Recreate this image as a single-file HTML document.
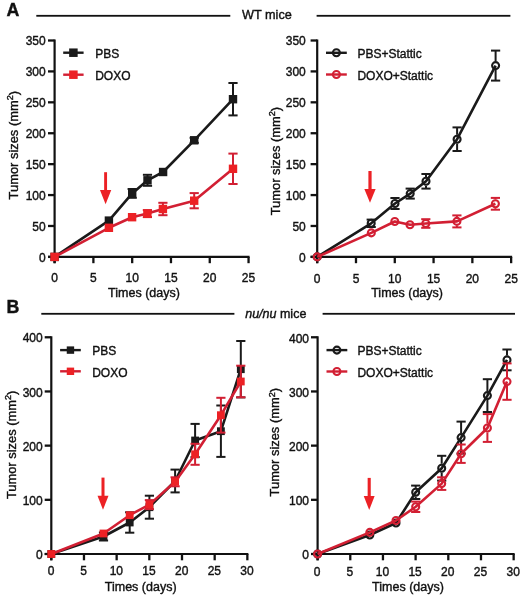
<!DOCTYPE html>
<html><head><meta charset="utf-8"><style>
html,body{margin:0;padding:0;background:#fff;width:520px;height:596px;overflow:hidden}
svg{display:block;will-change:transform}
text{font-family:"Liberation Sans", sans-serif;stroke:#111;stroke-width:0.38px}
</style></head><body>
<svg width="520" height="596" viewBox="0 0 520 596">
<rect width="520" height="596" fill="#fff"/>
<text x="6.50" y="15.90" font-size="17.8" text-anchor="start" font-weight="bold" font-style="normal" fill="#111" >A</text>
<rect x="36.3" y="14.9" width="194.0" height="1.8" fill="#111"/>
<rect x="316.6" y="14.9" width="193.8" height="1.8" fill="#111"/>
<text x="242.00" y="18.90" font-size="12.7" text-anchor="start" font-weight="normal" font-style="normal" fill="#111" >WT mice</text>
<text x="6.40" y="312.50" font-size="17.8" text-anchor="start" font-weight="bold" font-style="normal" fill="#111" >B</text>
<rect x="41.3" y="312.9" width="193.1" height="1.8" fill="#111"/>
<rect x="322.6" y="312.9" width="192.4" height="1.8" fill="#111"/>
<text x="245.2" y="317.9" font-size="12.5" fill="#111"><tspan font-style="italic">nu/nu</tspan> mice</text>
<line x1="54.60" y1="39.50" x2="54.60" y2="263.20" stroke="#111" stroke-width="2.2" stroke-linecap="butt"/>
<line x1="48.00" y1="256.90" x2="249.55" y2="256.90" stroke="#111" stroke-width="2.2" stroke-linecap="butt"/>
<line x1="48.00" y1="256.90" x2="54.60" y2="256.90" stroke="#111" stroke-width="2.3" stroke-linecap="butt"/>
<text x="45.70" y="262.40" font-size="12" text-anchor="end" font-weight="normal" font-style="normal" fill="#111" >0</text>
<line x1="48.00" y1="225.98" x2="54.60" y2="225.98" stroke="#111" stroke-width="2.3" stroke-linecap="butt"/>
<text x="45.70" y="231.33" font-size="12" text-anchor="end" font-weight="normal" font-style="normal" fill="#111" >50</text>
<line x1="48.00" y1="195.07" x2="54.60" y2="195.07" stroke="#111" stroke-width="2.3" stroke-linecap="butt"/>
<text x="45.70" y="200.26" font-size="12" text-anchor="end" font-weight="normal" font-style="normal" fill="#111" >100</text>
<line x1="48.00" y1="164.15" x2="54.60" y2="164.15" stroke="#111" stroke-width="2.3" stroke-linecap="butt"/>
<text x="45.70" y="169.18" font-size="12" text-anchor="end" font-weight="normal" font-style="normal" fill="#111" >150</text>
<line x1="48.00" y1="133.24" x2="54.60" y2="133.24" stroke="#111" stroke-width="2.3" stroke-linecap="butt"/>
<text x="45.70" y="138.11" font-size="12" text-anchor="end" font-weight="normal" font-style="normal" fill="#111" >200</text>
<line x1="48.00" y1="102.32" x2="54.60" y2="102.32" stroke="#111" stroke-width="2.3" stroke-linecap="butt"/>
<text x="45.70" y="107.04" font-size="12" text-anchor="end" font-weight="normal" font-style="normal" fill="#111" >250</text>
<line x1="48.00" y1="71.41" x2="54.60" y2="71.41" stroke="#111" stroke-width="2.3" stroke-linecap="butt"/>
<text x="45.70" y="75.97" font-size="12" text-anchor="end" font-weight="normal" font-style="normal" fill="#111" >300</text>
<line x1="48.00" y1="40.50" x2="54.60" y2="40.50" stroke="#111" stroke-width="2.3" stroke-linecap="butt"/>
<text x="45.70" y="44.90" font-size="12" text-anchor="end" font-weight="normal" font-style="normal" fill="#111" >350</text>
<line x1="54.60" y1="256.90" x2="54.60" y2="263.20" stroke="#111" stroke-width="2.3" stroke-linecap="butt"/>
<text x="54.60" y="282.20" font-size="12" text-anchor="middle" font-weight="normal" font-style="normal" fill="#111" >0</text>
<line x1="93.39" y1="256.90" x2="93.39" y2="263.20" stroke="#111" stroke-width="2.3" stroke-linecap="butt"/>
<text x="93.39" y="282.20" font-size="12" text-anchor="middle" font-weight="normal" font-style="normal" fill="#111" >5</text>
<line x1="132.18" y1="256.90" x2="132.18" y2="263.20" stroke="#111" stroke-width="2.3" stroke-linecap="butt"/>
<text x="132.18" y="282.20" font-size="12" text-anchor="middle" font-weight="normal" font-style="normal" fill="#111" >10</text>
<line x1="170.97" y1="256.90" x2="170.97" y2="263.20" stroke="#111" stroke-width="2.3" stroke-linecap="butt"/>
<text x="170.97" y="282.20" font-size="12" text-anchor="middle" font-weight="normal" font-style="normal" fill="#111" >15</text>
<line x1="209.76" y1="256.90" x2="209.76" y2="263.20" stroke="#111" stroke-width="2.3" stroke-linecap="butt"/>
<text x="209.76" y="282.20" font-size="12" text-anchor="middle" font-weight="normal" font-style="normal" fill="#111" >20</text>
<line x1="248.55" y1="256.90" x2="248.55" y2="263.20" stroke="#111" stroke-width="2.3" stroke-linecap="butt"/>
<text x="248.55" y="282.20" font-size="12" text-anchor="middle" font-weight="normal" font-style="normal" fill="#111" >25</text>
<text transform="translate(18.10,199.40) rotate(-90)" font-size="12.9" fill="#111">Tumor sizes (mm<tspan font-size="9" dy="-4.8">2</tspan><tspan dy="4.8">)</tspan></text>
<text x="108.10" y="297.20" font-size="12.5" text-anchor="start" font-weight="normal" font-style="normal" fill="#111" >Times (days)</text>
<line x1="317.20" y1="39.50" x2="317.20" y2="263.20" stroke="#111" stroke-width="2.2" stroke-linecap="butt"/>
<line x1="310.60" y1="256.90" x2="512.15" y2="256.90" stroke="#111" stroke-width="2.2" stroke-linecap="butt"/>
<line x1="310.60" y1="256.90" x2="317.20" y2="256.90" stroke="#111" stroke-width="2.3" stroke-linecap="butt"/>
<text x="305.80" y="262.40" font-size="12" text-anchor="end" font-weight="normal" font-style="normal" fill="#111" >0</text>
<line x1="310.60" y1="225.98" x2="317.20" y2="225.98" stroke="#111" stroke-width="2.3" stroke-linecap="butt"/>
<text x="305.80" y="231.37" font-size="12" text-anchor="end" font-weight="normal" font-style="normal" fill="#111" >50</text>
<line x1="310.60" y1="195.07" x2="317.20" y2="195.07" stroke="#111" stroke-width="2.3" stroke-linecap="butt"/>
<text x="305.80" y="200.34" font-size="12" text-anchor="end" font-weight="normal" font-style="normal" fill="#111" >100</text>
<line x1="310.60" y1="164.15" x2="317.20" y2="164.15" stroke="#111" stroke-width="2.3" stroke-linecap="butt"/>
<text x="305.80" y="169.31" font-size="12" text-anchor="end" font-weight="normal" font-style="normal" fill="#111" >150</text>
<line x1="310.60" y1="133.24" x2="317.20" y2="133.24" stroke="#111" stroke-width="2.3" stroke-linecap="butt"/>
<text x="305.80" y="138.28" font-size="12" text-anchor="end" font-weight="normal" font-style="normal" fill="#111" >200</text>
<line x1="310.60" y1="102.32" x2="317.20" y2="102.32" stroke="#111" stroke-width="2.3" stroke-linecap="butt"/>
<text x="305.80" y="107.25" font-size="12" text-anchor="end" font-weight="normal" font-style="normal" fill="#111" >250</text>
<line x1="310.60" y1="71.41" x2="317.20" y2="71.41" stroke="#111" stroke-width="2.3" stroke-linecap="butt"/>
<text x="305.80" y="76.22" font-size="12" text-anchor="end" font-weight="normal" font-style="normal" fill="#111" >300</text>
<line x1="310.60" y1="40.50" x2="317.20" y2="40.50" stroke="#111" stroke-width="2.3" stroke-linecap="butt"/>
<text x="305.80" y="45.20" font-size="12" text-anchor="end" font-weight="normal" font-style="normal" fill="#111" >350</text>
<line x1="317.20" y1="256.90" x2="317.20" y2="263.20" stroke="#111" stroke-width="2.3" stroke-linecap="butt"/>
<text x="317.20" y="282.50" font-size="12" text-anchor="middle" font-weight="normal" font-style="normal" fill="#111" >0</text>
<line x1="355.99" y1="256.90" x2="355.99" y2="263.20" stroke="#111" stroke-width="2.3" stroke-linecap="butt"/>
<text x="355.99" y="282.50" font-size="12" text-anchor="middle" font-weight="normal" font-style="normal" fill="#111" >5</text>
<line x1="394.78" y1="256.90" x2="394.78" y2="263.20" stroke="#111" stroke-width="2.3" stroke-linecap="butt"/>
<text x="394.78" y="282.50" font-size="12" text-anchor="middle" font-weight="normal" font-style="normal" fill="#111" >10</text>
<line x1="433.57" y1="256.90" x2="433.57" y2="263.20" stroke="#111" stroke-width="2.3" stroke-linecap="butt"/>
<text x="433.57" y="282.50" font-size="12" text-anchor="middle" font-weight="normal" font-style="normal" fill="#111" >15</text>
<line x1="472.36" y1="256.90" x2="472.36" y2="263.20" stroke="#111" stroke-width="2.3" stroke-linecap="butt"/>
<text x="472.36" y="282.50" font-size="12" text-anchor="middle" font-weight="normal" font-style="normal" fill="#111" >20</text>
<line x1="511.15" y1="256.90" x2="511.15" y2="263.20" stroke="#111" stroke-width="2.3" stroke-linecap="butt"/>
<text x="511.15" y="282.50" font-size="12" text-anchor="middle" font-weight="normal" font-style="normal" fill="#111" >25</text>
<text transform="translate(280.10,215.30) rotate(-90)" font-size="12.9" fill="#111">Tumor sizes (mm<tspan font-size="9" dy="-4.8">2</tspan><tspan dy="4.8">)</tspan></text>
<text x="371.20" y="297.40" font-size="12.5" text-anchor="start" font-weight="normal" font-style="normal" fill="#111" >Times (days)</text>
<path d="M54.60,256.90 L108.90,220.60 L132.20,193.40 L147.50,180.30 L163.10,172.00 L194.20,140.30 L233.00,99.20" fill="none" stroke="#1a1a1a" stroke-width="2.6" stroke-linejoin="round"/>
<line x1="132.20" y1="189.00" x2="132.20" y2="197.80" stroke="#1a1a1a" stroke-width="2.0" stroke-linecap="butt"/>
<line x1="127.60" y1="189.00" x2="136.80" y2="189.00" stroke="#1a1a1a" stroke-width="2.0" stroke-linecap="butt"/>
<line x1="127.60" y1="197.80" x2="136.80" y2="197.80" stroke="#1a1a1a" stroke-width="2.0" stroke-linecap="butt"/>
<line x1="147.50" y1="174.80" x2="147.50" y2="185.80" stroke="#1a1a1a" stroke-width="2.0" stroke-linecap="butt"/>
<line x1="142.90" y1="174.80" x2="152.10" y2="174.80" stroke="#1a1a1a" stroke-width="2.0" stroke-linecap="butt"/>
<line x1="142.90" y1="185.80" x2="152.10" y2="185.80" stroke="#1a1a1a" stroke-width="2.0" stroke-linecap="butt"/>
<line x1="194.20" y1="137.80" x2="194.20" y2="142.80" stroke="#1a1a1a" stroke-width="2.0" stroke-linecap="butt"/>
<line x1="189.60" y1="137.80" x2="198.80" y2="137.80" stroke="#1a1a1a" stroke-width="2.0" stroke-linecap="butt"/>
<line x1="189.60" y1="142.80" x2="198.80" y2="142.80" stroke="#1a1a1a" stroke-width="2.0" stroke-linecap="butt"/>
<line x1="233.00" y1="83.00" x2="233.00" y2="115.40" stroke="#1a1a1a" stroke-width="2.0" stroke-linecap="butt"/>
<line x1="228.40" y1="83.00" x2="237.60" y2="83.00" stroke="#1a1a1a" stroke-width="2.0" stroke-linecap="butt"/>
<line x1="228.40" y1="115.40" x2="237.60" y2="115.40" stroke="#1a1a1a" stroke-width="2.0" stroke-linecap="butt"/>
<rect x="50.40" y="252.70" width="8.4" height="8.4" fill="#1a1a1a"/>
<rect x="104.70" y="216.40" width="8.4" height="8.4" fill="#1a1a1a"/>
<rect x="128.00" y="189.20" width="8.4" height="8.4" fill="#1a1a1a"/>
<rect x="143.30" y="176.10" width="8.4" height="8.4" fill="#1a1a1a"/>
<rect x="158.90" y="167.80" width="8.4" height="8.4" fill="#1a1a1a"/>
<rect x="190.00" y="136.10" width="8.4" height="8.4" fill="#1a1a1a"/>
<rect x="228.80" y="95.00" width="8.4" height="8.4" fill="#1a1a1a"/>
<path d="M54.60,256.90 L108.90,227.80 L132.10,217.20 L147.40,213.60 L162.90,209.00 L194.20,200.70 L233.00,168.80" fill="none" stroke="#d21f33" stroke-width="2.6" stroke-linejoin="round"/>
<line x1="147.40" y1="210.10" x2="147.40" y2="217.10" stroke="#d21f33" stroke-width="2.0" stroke-linecap="butt"/>
<line x1="142.80" y1="210.10" x2="152.00" y2="210.10" stroke="#d21f33" stroke-width="2.0" stroke-linecap="butt"/>
<line x1="142.80" y1="217.10" x2="152.00" y2="217.10" stroke="#d21f33" stroke-width="2.0" stroke-linecap="butt"/>
<line x1="162.90" y1="202.80" x2="162.90" y2="215.20" stroke="#d21f33" stroke-width="2.0" stroke-linecap="butt"/>
<line x1="158.30" y1="202.80" x2="167.50" y2="202.80" stroke="#d21f33" stroke-width="2.0" stroke-linecap="butt"/>
<line x1="158.30" y1="215.20" x2="167.50" y2="215.20" stroke="#d21f33" stroke-width="2.0" stroke-linecap="butt"/>
<line x1="194.20" y1="193.10" x2="194.20" y2="208.30" stroke="#d21f33" stroke-width="2.0" stroke-linecap="butt"/>
<line x1="189.60" y1="193.10" x2="198.80" y2="193.10" stroke="#d21f33" stroke-width="2.0" stroke-linecap="butt"/>
<line x1="189.60" y1="208.30" x2="198.80" y2="208.30" stroke="#d21f33" stroke-width="2.0" stroke-linecap="butt"/>
<line x1="233.00" y1="153.60" x2="233.00" y2="184.00" stroke="#d21f33" stroke-width="2.0" stroke-linecap="butt"/>
<line x1="228.40" y1="153.60" x2="237.60" y2="153.60" stroke="#d21f33" stroke-width="2.0" stroke-linecap="butt"/>
<line x1="228.40" y1="184.00" x2="237.60" y2="184.00" stroke="#d21f33" stroke-width="2.0" stroke-linecap="butt"/>
<rect x="50.40" y="252.70" width="8.4" height="8.4" fill="#ec2125"/>
<rect x="104.70" y="223.60" width="8.4" height="8.4" fill="#ec2125"/>
<rect x="127.90" y="213.00" width="8.4" height="8.4" fill="#ec2125"/>
<rect x="143.20" y="209.40" width="8.4" height="8.4" fill="#ec2125"/>
<rect x="158.70" y="204.80" width="8.4" height="8.4" fill="#ec2125"/>
<rect x="190.00" y="196.50" width="8.4" height="8.4" fill="#ec2125"/>
<rect x="228.80" y="164.60" width="8.4" height="8.4" fill="#ec2125"/>
<line x1="63.20" y1="52.70" x2="83.60" y2="52.70" stroke="#1a1a1a" stroke-width="2.4" stroke-linecap="butt"/>
<rect x="69.15" y="48.45" width="8.5" height="8.5" fill="#1a1a1a"/>
<text x="95.20" y="57.70" font-size="12" text-anchor="start" font-weight="normal" font-style="normal" fill="#111" >PBS</text>
<line x1="63.20" y1="74.70" x2="83.60" y2="74.70" stroke="#d21f33" stroke-width="2.4" stroke-linecap="butt"/>
<rect x="69.15" y="70.45" width="8.5" height="8.5" fill="#ec2125"/>
<text x="95.20" y="79.70" font-size="12" text-anchor="start" font-weight="normal" font-style="normal" fill="#111" >DOXO</text>
<rect x="104.15" y="172.20" width="2.9" height="18.70" fill="#ec2125"/>
<polygon points="99.95,189.90 111.25,189.90 105.60,204.30" fill="#ec2125"/>
<path d="M317.20,256.90 L371.20,223.30 L395.00,203.50 L410.20,193.60 L426.00,181.30 L457.10,139.20 L495.60,65.60" fill="none" stroke="#1a1a1a" stroke-width="2.6" stroke-linejoin="round"/>
<line x1="366.60" y1="219.60" x2="375.80" y2="219.60" stroke="#1a1a1a" stroke-width="2.0" stroke-linecap="butt"/>
<line x1="366.60" y1="227.00" x2="375.80" y2="227.00" stroke="#1a1a1a" stroke-width="2.0" stroke-linecap="butt"/>
<line x1="395.00" y1="198.00" x2="395.00" y2="199.10" stroke="#1a1a1a" stroke-width="2.0" stroke-linecap="butt"/>
<line x1="395.00" y1="207.90" x2="395.00" y2="209.00" stroke="#1a1a1a" stroke-width="2.0" stroke-linecap="butt"/>
<line x1="390.40" y1="198.00" x2="399.60" y2="198.00" stroke="#1a1a1a" stroke-width="2.0" stroke-linecap="butt"/>
<line x1="390.40" y1="209.00" x2="399.60" y2="209.00" stroke="#1a1a1a" stroke-width="2.0" stroke-linecap="butt"/>
<line x1="410.20" y1="188.60" x2="410.20" y2="189.20" stroke="#1a1a1a" stroke-width="2.0" stroke-linecap="butt"/>
<line x1="410.20" y1="198.00" x2="410.20" y2="198.60" stroke="#1a1a1a" stroke-width="2.0" stroke-linecap="butt"/>
<line x1="405.60" y1="188.60" x2="414.80" y2="188.60" stroke="#1a1a1a" stroke-width="2.0" stroke-linecap="butt"/>
<line x1="405.60" y1="198.60" x2="414.80" y2="198.60" stroke="#1a1a1a" stroke-width="2.0" stroke-linecap="butt"/>
<line x1="426.00" y1="174.00" x2="426.00" y2="176.90" stroke="#1a1a1a" stroke-width="2.0" stroke-linecap="butt"/>
<line x1="426.00" y1="185.70" x2="426.00" y2="188.60" stroke="#1a1a1a" stroke-width="2.0" stroke-linecap="butt"/>
<line x1="421.40" y1="174.00" x2="430.60" y2="174.00" stroke="#1a1a1a" stroke-width="2.0" stroke-linecap="butt"/>
<line x1="421.40" y1="188.60" x2="430.60" y2="188.60" stroke="#1a1a1a" stroke-width="2.0" stroke-linecap="butt"/>
<line x1="457.10" y1="127.40" x2="457.10" y2="134.80" stroke="#1a1a1a" stroke-width="2.0" stroke-linecap="butt"/>
<line x1="457.10" y1="143.60" x2="457.10" y2="151.00" stroke="#1a1a1a" stroke-width="2.0" stroke-linecap="butt"/>
<line x1="452.50" y1="127.40" x2="461.70" y2="127.40" stroke="#1a1a1a" stroke-width="2.0" stroke-linecap="butt"/>
<line x1="452.50" y1="151.00" x2="461.70" y2="151.00" stroke="#1a1a1a" stroke-width="2.0" stroke-linecap="butt"/>
<line x1="495.60" y1="50.60" x2="495.60" y2="61.20" stroke="#1a1a1a" stroke-width="2.0" stroke-linecap="butt"/>
<line x1="495.60" y1="70.00" x2="495.60" y2="80.60" stroke="#1a1a1a" stroke-width="2.0" stroke-linecap="butt"/>
<line x1="491.00" y1="50.60" x2="500.20" y2="50.60" stroke="#1a1a1a" stroke-width="2.0" stroke-linecap="butt"/>
<line x1="491.00" y1="80.60" x2="500.20" y2="80.60" stroke="#1a1a1a" stroke-width="2.0" stroke-linecap="butt"/>
<circle cx="317.20" cy="256.90" r="3.5" fill="none" stroke="#1a1a1a" stroke-width="2.1"/>
<circle cx="371.20" cy="223.30" r="3.5" fill="none" stroke="#1a1a1a" stroke-width="2.1"/>
<circle cx="395.00" cy="203.50" r="3.5" fill="none" stroke="#1a1a1a" stroke-width="2.1"/>
<circle cx="410.20" cy="193.60" r="3.5" fill="none" stroke="#1a1a1a" stroke-width="2.1"/>
<circle cx="426.00" cy="181.30" r="3.5" fill="none" stroke="#1a1a1a" stroke-width="2.1"/>
<circle cx="457.10" cy="139.20" r="3.5" fill="none" stroke="#1a1a1a" stroke-width="2.1"/>
<circle cx="495.60" cy="65.60" r="3.5" fill="none" stroke="#1a1a1a" stroke-width="2.1"/>
<path d="M317.20,256.90 L371.30,232.90 L394.80,221.50 L410.00,224.80 L425.80,223.50 L456.90,221.40 L495.40,203.80" fill="none" stroke="#d21f33" stroke-width="2.6" stroke-linejoin="round"/>
<line x1="421.20" y1="219.20" x2="430.40" y2="219.20" stroke="#d21f33" stroke-width="2.0" stroke-linecap="butt"/>
<line x1="421.20" y1="227.80" x2="430.40" y2="227.80" stroke="#d21f33" stroke-width="2.0" stroke-linecap="butt"/>
<line x1="456.90" y1="215.40" x2="456.90" y2="217.00" stroke="#d21f33" stroke-width="2.0" stroke-linecap="butt"/>
<line x1="456.90" y1="225.80" x2="456.90" y2="227.40" stroke="#d21f33" stroke-width="2.0" stroke-linecap="butt"/>
<line x1="452.30" y1="215.40" x2="461.50" y2="215.40" stroke="#d21f33" stroke-width="2.0" stroke-linecap="butt"/>
<line x1="452.30" y1="227.40" x2="461.50" y2="227.40" stroke="#d21f33" stroke-width="2.0" stroke-linecap="butt"/>
<line x1="495.40" y1="197.90" x2="495.40" y2="199.40" stroke="#d21f33" stroke-width="2.0" stroke-linecap="butt"/>
<line x1="495.40" y1="208.20" x2="495.40" y2="209.70" stroke="#d21f33" stroke-width="2.0" stroke-linecap="butt"/>
<line x1="490.80" y1="197.90" x2="500.00" y2="197.90" stroke="#d21f33" stroke-width="2.0" stroke-linecap="butt"/>
<line x1="490.80" y1="209.70" x2="500.00" y2="209.70" stroke="#d21f33" stroke-width="2.0" stroke-linecap="butt"/>
<circle cx="317.20" cy="256.90" r="3.5" fill="none" stroke="#d21f33" stroke-width="2.1"/>
<circle cx="371.30" cy="232.90" r="3.5" fill="none" stroke="#d21f33" stroke-width="2.1"/>
<circle cx="394.80" cy="221.50" r="3.5" fill="none" stroke="#d21f33" stroke-width="2.1"/>
<circle cx="410.00" cy="224.80" r="3.5" fill="none" stroke="#d21f33" stroke-width="2.1"/>
<circle cx="425.80" cy="223.50" r="3.5" fill="none" stroke="#d21f33" stroke-width="2.1"/>
<circle cx="456.90" cy="221.40" r="3.5" fill="none" stroke="#d21f33" stroke-width="2.1"/>
<circle cx="495.40" cy="203.80" r="3.5" fill="none" stroke="#d21f33" stroke-width="2.1"/>
<line x1="326.00" y1="52.80" x2="346.80" y2="52.80" stroke="#1a1a1a" stroke-width="2.4" stroke-linecap="butt"/>
<circle cx="336.40" cy="52.80" r="3.5" fill="none" stroke="#1a1a1a" stroke-width="2.1"/>
<text x="357.40" y="57.80" font-size="12" text-anchor="start" font-weight="normal" font-style="normal" fill="#111" >PBS+Stattic</text>
<line x1="326.00" y1="74.50" x2="346.80" y2="74.50" stroke="#d21f33" stroke-width="2.4" stroke-linecap="butt"/>
<circle cx="336.40" cy="74.50" r="3.5" fill="none" stroke="#d21f33" stroke-width="2.1"/>
<text x="357.40" y="79.80" font-size="12" text-anchor="start" font-weight="normal" font-style="normal" fill="#111" >DOXO+Stattic</text>
<rect x="368.40" y="171.00" width="3.2" height="19.00" fill="#ec2125"/>
<polygon points="364.35,189.00 375.65,189.00 370.00,202.80" fill="#ec2125"/>
<line x1="51.30" y1="336.28" x2="51.30" y2="560.30" stroke="#111" stroke-width="2.2" stroke-linecap="butt"/>
<line x1="44.70" y1="554.00" x2="248.35" y2="554.00" stroke="#111" stroke-width="2.2" stroke-linecap="butt"/>
<line x1="44.70" y1="554.00" x2="51.30" y2="554.00" stroke="#111" stroke-width="2.3" stroke-linecap="butt"/>
<text x="42.70" y="559.20" font-size="12" text-anchor="end" font-weight="normal" font-style="normal" fill="#111" >0</text>
<line x1="44.70" y1="499.82" x2="51.30" y2="499.82" stroke="#111" stroke-width="2.3" stroke-linecap="butt"/>
<text x="42.70" y="505.02" font-size="12" text-anchor="end" font-weight="normal" font-style="normal" fill="#111" >100</text>
<line x1="44.70" y1="445.64" x2="51.30" y2="445.64" stroke="#111" stroke-width="2.3" stroke-linecap="butt"/>
<text x="42.70" y="450.84" font-size="12" text-anchor="end" font-weight="normal" font-style="normal" fill="#111" >200</text>
<line x1="44.70" y1="391.46" x2="51.30" y2="391.46" stroke="#111" stroke-width="2.3" stroke-linecap="butt"/>
<text x="42.70" y="396.66" font-size="12" text-anchor="end" font-weight="normal" font-style="normal" fill="#111" >300</text>
<line x1="44.70" y1="337.28" x2="51.30" y2="337.28" stroke="#111" stroke-width="2.3" stroke-linecap="butt"/>
<text x="42.70" y="342.48" font-size="12" text-anchor="end" font-weight="normal" font-style="normal" fill="#111" >400</text>
<line x1="51.30" y1="554.00" x2="51.30" y2="560.30" stroke="#111" stroke-width="2.3" stroke-linecap="butt"/>
<text x="51.00" y="575.20" font-size="12" text-anchor="middle" font-weight="normal" font-style="normal" fill="#111" >0</text>
<line x1="83.97" y1="554.00" x2="83.97" y2="560.30" stroke="#111" stroke-width="2.3" stroke-linecap="butt"/>
<text x="83.67" y="575.20" font-size="12" text-anchor="middle" font-weight="normal" font-style="normal" fill="#111" >5</text>
<line x1="116.65" y1="554.00" x2="116.65" y2="560.30" stroke="#111" stroke-width="2.3" stroke-linecap="butt"/>
<text x="116.35" y="575.20" font-size="12" text-anchor="middle" font-weight="normal" font-style="normal" fill="#111" >10</text>
<line x1="149.32" y1="554.00" x2="149.32" y2="560.30" stroke="#111" stroke-width="2.3" stroke-linecap="butt"/>
<text x="149.02" y="575.20" font-size="12" text-anchor="middle" font-weight="normal" font-style="normal" fill="#111" >15</text>
<line x1="182.00" y1="554.00" x2="182.00" y2="560.30" stroke="#111" stroke-width="2.3" stroke-linecap="butt"/>
<text x="181.70" y="575.20" font-size="12" text-anchor="middle" font-weight="normal" font-style="normal" fill="#111" >20</text>
<line x1="214.68" y1="554.00" x2="214.68" y2="560.30" stroke="#111" stroke-width="2.3" stroke-linecap="butt"/>
<text x="214.38" y="575.20" font-size="12" text-anchor="middle" font-weight="normal" font-style="normal" fill="#111" >25</text>
<line x1="247.35" y1="554.00" x2="247.35" y2="560.30" stroke="#111" stroke-width="2.3" stroke-linecap="butt"/>
<text x="247.05" y="575.20" font-size="12" text-anchor="middle" font-weight="normal" font-style="normal" fill="#111" >30</text>
<text transform="translate(15.80,499.10) rotate(-90)" font-size="12.9" fill="#111">Tumor sizes (mm<tspan font-size="9" dy="-4.8">2</tspan><tspan dy="4.8">)</tspan></text>
<text x="104.80" y="591.00" font-size="12.5" text-anchor="start" font-weight="normal" font-style="normal" fill="#111" >Times (days)</text>
<line x1="317.60" y1="336.28" x2="317.60" y2="560.30" stroke="#111" stroke-width="2.2" stroke-linecap="butt"/>
<line x1="311.00" y1="554.00" x2="514.65" y2="554.00" stroke="#111" stroke-width="2.2" stroke-linecap="butt"/>
<line x1="311.00" y1="554.00" x2="317.60" y2="554.00" stroke="#111" stroke-width="2.3" stroke-linecap="butt"/>
<text x="309.00" y="559.40" font-size="12" text-anchor="end" font-weight="normal" font-style="normal" fill="#111" >0</text>
<line x1="311.00" y1="499.82" x2="317.60" y2="499.82" stroke="#111" stroke-width="2.3" stroke-linecap="butt"/>
<text x="309.00" y="505.22" font-size="12" text-anchor="end" font-weight="normal" font-style="normal" fill="#111" >100</text>
<line x1="311.00" y1="445.64" x2="317.60" y2="445.64" stroke="#111" stroke-width="2.3" stroke-linecap="butt"/>
<text x="309.00" y="451.04" font-size="12" text-anchor="end" font-weight="normal" font-style="normal" fill="#111" >200</text>
<line x1="311.00" y1="391.46" x2="317.60" y2="391.46" stroke="#111" stroke-width="2.3" stroke-linecap="butt"/>
<text x="309.00" y="396.86" font-size="12" text-anchor="end" font-weight="normal" font-style="normal" fill="#111" >300</text>
<line x1="311.00" y1="337.28" x2="317.60" y2="337.28" stroke="#111" stroke-width="2.3" stroke-linecap="butt"/>
<text x="309.00" y="342.68" font-size="12" text-anchor="end" font-weight="normal" font-style="normal" fill="#111" >400</text>
<line x1="317.60" y1="554.00" x2="317.60" y2="560.30" stroke="#111" stroke-width="2.3" stroke-linecap="butt"/>
<text x="317.10" y="575.70" font-size="12" text-anchor="middle" font-weight="normal" font-style="normal" fill="#111" >0</text>
<line x1="350.28" y1="554.00" x2="350.28" y2="560.30" stroke="#111" stroke-width="2.3" stroke-linecap="butt"/>
<text x="349.78" y="575.70" font-size="12" text-anchor="middle" font-weight="normal" font-style="normal" fill="#111" >5</text>
<line x1="382.95" y1="554.00" x2="382.95" y2="560.30" stroke="#111" stroke-width="2.3" stroke-linecap="butt"/>
<text x="382.45" y="575.70" font-size="12" text-anchor="middle" font-weight="normal" font-style="normal" fill="#111" >10</text>
<line x1="415.62" y1="554.00" x2="415.62" y2="560.30" stroke="#111" stroke-width="2.3" stroke-linecap="butt"/>
<text x="415.12" y="575.70" font-size="12" text-anchor="middle" font-weight="normal" font-style="normal" fill="#111" >15</text>
<line x1="448.30" y1="554.00" x2="448.30" y2="560.30" stroke="#111" stroke-width="2.3" stroke-linecap="butt"/>
<text x="447.80" y="575.70" font-size="12" text-anchor="middle" font-weight="normal" font-style="normal" fill="#111" >20</text>
<line x1="480.98" y1="554.00" x2="480.98" y2="560.30" stroke="#111" stroke-width="2.3" stroke-linecap="butt"/>
<text x="480.48" y="575.70" font-size="12" text-anchor="middle" font-weight="normal" font-style="normal" fill="#111" >25</text>
<line x1="513.65" y1="554.00" x2="513.65" y2="560.30" stroke="#111" stroke-width="2.3" stroke-linecap="butt"/>
<text x="513.15" y="575.70" font-size="12" text-anchor="middle" font-weight="normal" font-style="normal" fill="#111" >30</text>
<text transform="translate(279.40,496.40) rotate(-90)" font-size="12.9" fill="#111">Tumor sizes (mm<tspan font-size="9" dy="-4.8">2</tspan><tspan dy="4.8">)</tspan></text>
<text x="372.10" y="591.00" font-size="12.5" text-anchor="start" font-weight="normal" font-style="normal" fill="#111" >Times (days)</text>
<path d="M51.30,554.00 L103.50,536.50 L129.70,522.50 L149.40,507.20 L175.10,481.00 L195.10,440.50 L220.90,431.20 L240.80,369.20" fill="none" stroke="#1a1a1a" stroke-width="2.6" stroke-linejoin="round"/>
<line x1="103.50" y1="532.50" x2="103.50" y2="540.50" stroke="#1a1a1a" stroke-width="2.0" stroke-linecap="butt"/>
<line x1="98.90" y1="532.50" x2="108.10" y2="532.50" stroke="#1a1a1a" stroke-width="2.0" stroke-linecap="butt"/>
<line x1="98.90" y1="540.50" x2="108.10" y2="540.50" stroke="#1a1a1a" stroke-width="2.0" stroke-linecap="butt"/>
<line x1="129.70" y1="512.30" x2="129.70" y2="532.70" stroke="#1a1a1a" stroke-width="2.0" stroke-linecap="butt"/>
<line x1="125.10" y1="512.30" x2="134.30" y2="512.30" stroke="#1a1a1a" stroke-width="2.0" stroke-linecap="butt"/>
<line x1="125.10" y1="532.70" x2="134.30" y2="532.70" stroke="#1a1a1a" stroke-width="2.0" stroke-linecap="butt"/>
<line x1="149.40" y1="495.70" x2="149.40" y2="518.70" stroke="#1a1a1a" stroke-width="2.0" stroke-linecap="butt"/>
<line x1="144.80" y1="495.70" x2="154.00" y2="495.70" stroke="#1a1a1a" stroke-width="2.0" stroke-linecap="butt"/>
<line x1="144.80" y1="518.70" x2="154.00" y2="518.70" stroke="#1a1a1a" stroke-width="2.0" stroke-linecap="butt"/>
<line x1="175.10" y1="469.60" x2="175.10" y2="492.40" stroke="#1a1a1a" stroke-width="2.0" stroke-linecap="butt"/>
<line x1="170.50" y1="469.60" x2="179.70" y2="469.60" stroke="#1a1a1a" stroke-width="2.0" stroke-linecap="butt"/>
<line x1="170.50" y1="492.40" x2="179.70" y2="492.40" stroke="#1a1a1a" stroke-width="2.0" stroke-linecap="butt"/>
<line x1="195.10" y1="423.90" x2="195.10" y2="457.10" stroke="#1a1a1a" stroke-width="2.0" stroke-linecap="butt"/>
<line x1="190.50" y1="423.90" x2="199.70" y2="423.90" stroke="#1a1a1a" stroke-width="2.0" stroke-linecap="butt"/>
<line x1="190.50" y1="457.10" x2="199.70" y2="457.10" stroke="#1a1a1a" stroke-width="2.0" stroke-linecap="butt"/>
<line x1="220.90" y1="405.50" x2="220.90" y2="456.90" stroke="#1a1a1a" stroke-width="2.0" stroke-linecap="butt"/>
<line x1="216.30" y1="405.50" x2="225.50" y2="405.50" stroke="#1a1a1a" stroke-width="2.0" stroke-linecap="butt"/>
<line x1="216.30" y1="456.90" x2="225.50" y2="456.90" stroke="#1a1a1a" stroke-width="2.0" stroke-linecap="butt"/>
<line x1="240.80" y1="341.00" x2="240.80" y2="397.40" stroke="#1a1a1a" stroke-width="2.0" stroke-linecap="butt"/>
<line x1="236.20" y1="341.00" x2="245.40" y2="341.00" stroke="#1a1a1a" stroke-width="2.0" stroke-linecap="butt"/>
<line x1="236.20" y1="397.40" x2="245.40" y2="397.40" stroke="#1a1a1a" stroke-width="2.0" stroke-linecap="butt"/>
<rect x="47.40" y="550.10" width="7.8" height="7.8" fill="#1a1a1a"/>
<rect x="99.60" y="532.60" width="7.8" height="7.8" fill="#1a1a1a"/>
<rect x="125.80" y="518.60" width="7.8" height="7.8" fill="#1a1a1a"/>
<rect x="145.50" y="503.30" width="7.8" height="7.8" fill="#1a1a1a"/>
<rect x="171.20" y="477.10" width="7.8" height="7.8" fill="#1a1a1a"/>
<rect x="191.20" y="436.60" width="7.8" height="7.8" fill="#1a1a1a"/>
<rect x="217.00" y="427.30" width="7.8" height="7.8" fill="#1a1a1a"/>
<rect x="236.90" y="365.30" width="7.8" height="7.8" fill="#1a1a1a"/>
<path d="M51.30,554.00 L103.50,533.50 L129.70,515.20 L149.40,504.60 L175.10,481.80 L195.10,454.30 L220.90,415.20 L240.80,381.50" fill="none" stroke="#d21f33" stroke-width="2.6" stroke-linejoin="round"/>
<line x1="149.40" y1="500.10" x2="149.40" y2="509.10" stroke="#d21f33" stroke-width="2.0" stroke-linecap="butt"/>
<line x1="144.80" y1="500.10" x2="154.00" y2="500.10" stroke="#d21f33" stroke-width="2.0" stroke-linecap="butt"/>
<line x1="144.80" y1="509.10" x2="154.00" y2="509.10" stroke="#d21f33" stroke-width="2.0" stroke-linecap="butt"/>
<line x1="175.10" y1="477.30" x2="175.10" y2="486.30" stroke="#d21f33" stroke-width="2.0" stroke-linecap="butt"/>
<line x1="170.50" y1="477.30" x2="179.70" y2="477.30" stroke="#d21f33" stroke-width="2.0" stroke-linecap="butt"/>
<line x1="170.50" y1="486.30" x2="179.70" y2="486.30" stroke="#d21f33" stroke-width="2.0" stroke-linecap="butt"/>
<line x1="195.10" y1="443.80" x2="195.10" y2="464.80" stroke="#d21f33" stroke-width="2.0" stroke-linecap="butt"/>
<line x1="190.50" y1="443.80" x2="199.70" y2="443.80" stroke="#d21f33" stroke-width="2.0" stroke-linecap="butt"/>
<line x1="190.50" y1="464.80" x2="199.70" y2="464.80" stroke="#d21f33" stroke-width="2.0" stroke-linecap="butt"/>
<line x1="220.90" y1="397.80" x2="220.90" y2="432.60" stroke="#d21f33" stroke-width="2.0" stroke-linecap="butt"/>
<line x1="216.30" y1="397.80" x2="225.50" y2="397.80" stroke="#d21f33" stroke-width="2.0" stroke-linecap="butt"/>
<line x1="216.30" y1="432.60" x2="225.50" y2="432.60" stroke="#d21f33" stroke-width="2.0" stroke-linecap="butt"/>
<line x1="240.80" y1="365.70" x2="240.80" y2="397.30" stroke="#d21f33" stroke-width="2.0" stroke-linecap="butt"/>
<line x1="236.20" y1="365.70" x2="245.40" y2="365.70" stroke="#d21f33" stroke-width="2.0" stroke-linecap="butt"/>
<line x1="236.20" y1="397.30" x2="245.40" y2="397.30" stroke="#d21f33" stroke-width="2.0" stroke-linecap="butt"/>
<rect x="47.40" y="550.10" width="7.8" height="7.8" fill="#ec2125"/>
<rect x="99.60" y="529.60" width="7.8" height="7.8" fill="#ec2125"/>
<rect x="125.80" y="511.30" width="7.8" height="7.8" fill="#ec2125"/>
<rect x="145.50" y="500.70" width="7.8" height="7.8" fill="#ec2125"/>
<rect x="171.20" y="477.90" width="7.8" height="7.8" fill="#ec2125"/>
<rect x="191.20" y="450.40" width="7.8" height="7.8" fill="#ec2125"/>
<rect x="217.00" y="411.30" width="7.8" height="7.8" fill="#ec2125"/>
<rect x="236.90" y="377.60" width="7.8" height="7.8" fill="#ec2125"/>
<line x1="60.10" y1="350.10" x2="80.80" y2="350.10" stroke="#1a1a1a" stroke-width="2.4" stroke-linecap="butt"/>
<rect x="66.75" y="346.40" width="7.4" height="7.4" fill="#1a1a1a"/>
<text x="92.20" y="355.10" font-size="12" text-anchor="start" font-weight="normal" font-style="normal" fill="#111" >PBS</text>
<line x1="60.10" y1="371.30" x2="80.80" y2="371.30" stroke="#d21f33" stroke-width="2.4" stroke-linecap="butt"/>
<rect x="66.75" y="367.60" width="7.4" height="7.4" fill="#ec2125"/>
<text x="92.20" y="376.80" font-size="12" text-anchor="start" font-weight="normal" font-style="normal" fill="#111" >DOXO</text>
<rect x="101.50" y="477.60" width="3.0" height="19.10" fill="#ec2125"/>
<polygon points="97.50,495.70 108.50,495.70 103.00,509.70" fill="#ec2125"/>
<path d="M317.60,554.00 L369.80,535.00 L396.00,523.00 L415.70,492.30 L441.70,468.20 L461.10,437.60 L487.40,395.60 L507.00,359.90" fill="none" stroke="#1a1a1a" stroke-width="2.6" stroke-linejoin="round"/>
<line x1="415.70" y1="485.60" x2="415.70" y2="487.90" stroke="#1a1a1a" stroke-width="2.0" stroke-linecap="butt"/>
<line x1="415.70" y1="496.70" x2="415.70" y2="499.00" stroke="#1a1a1a" stroke-width="2.0" stroke-linecap="butt"/>
<line x1="411.10" y1="485.60" x2="420.30" y2="485.60" stroke="#1a1a1a" stroke-width="2.0" stroke-linecap="butt"/>
<line x1="411.10" y1="499.00" x2="420.30" y2="499.00" stroke="#1a1a1a" stroke-width="2.0" stroke-linecap="butt"/>
<line x1="441.70" y1="455.80" x2="441.70" y2="463.80" stroke="#1a1a1a" stroke-width="2.0" stroke-linecap="butt"/>
<line x1="441.70" y1="472.60" x2="441.70" y2="480.60" stroke="#1a1a1a" stroke-width="2.0" stroke-linecap="butt"/>
<line x1="437.10" y1="455.80" x2="446.30" y2="455.80" stroke="#1a1a1a" stroke-width="2.0" stroke-linecap="butt"/>
<line x1="437.10" y1="480.60" x2="446.30" y2="480.60" stroke="#1a1a1a" stroke-width="2.0" stroke-linecap="butt"/>
<line x1="461.10" y1="421.60" x2="461.10" y2="433.20" stroke="#1a1a1a" stroke-width="2.0" stroke-linecap="butt"/>
<line x1="461.10" y1="442.00" x2="461.10" y2="453.60" stroke="#1a1a1a" stroke-width="2.0" stroke-linecap="butt"/>
<line x1="456.50" y1="421.60" x2="465.70" y2="421.60" stroke="#1a1a1a" stroke-width="2.0" stroke-linecap="butt"/>
<line x1="456.50" y1="453.60" x2="465.70" y2="453.60" stroke="#1a1a1a" stroke-width="2.0" stroke-linecap="butt"/>
<line x1="487.40" y1="379.20" x2="487.40" y2="391.20" stroke="#1a1a1a" stroke-width="2.0" stroke-linecap="butt"/>
<line x1="487.40" y1="400.00" x2="487.40" y2="412.00" stroke="#1a1a1a" stroke-width="2.0" stroke-linecap="butt"/>
<line x1="482.80" y1="379.20" x2="492.00" y2="379.20" stroke="#1a1a1a" stroke-width="2.0" stroke-linecap="butt"/>
<line x1="482.80" y1="412.00" x2="492.00" y2="412.00" stroke="#1a1a1a" stroke-width="2.0" stroke-linecap="butt"/>
<line x1="507.00" y1="349.50" x2="507.00" y2="355.50" stroke="#1a1a1a" stroke-width="2.0" stroke-linecap="butt"/>
<line x1="507.00" y1="364.30" x2="507.00" y2="370.30" stroke="#1a1a1a" stroke-width="2.0" stroke-linecap="butt"/>
<line x1="502.40" y1="349.50" x2="511.60" y2="349.50" stroke="#1a1a1a" stroke-width="2.0" stroke-linecap="butt"/>
<line x1="502.40" y1="370.30" x2="511.60" y2="370.30" stroke="#1a1a1a" stroke-width="2.0" stroke-linecap="butt"/>
<circle cx="317.60" cy="554.00" r="3.5" fill="none" stroke="#1a1a1a" stroke-width="2.1"/>
<circle cx="369.80" cy="535.00" r="3.5" fill="none" stroke="#1a1a1a" stroke-width="2.1"/>
<circle cx="396.00" cy="523.00" r="3.5" fill="none" stroke="#1a1a1a" stroke-width="2.1"/>
<circle cx="415.70" cy="492.30" r="3.5" fill="none" stroke="#1a1a1a" stroke-width="2.1"/>
<circle cx="441.70" cy="468.20" r="3.5" fill="none" stroke="#1a1a1a" stroke-width="2.1"/>
<circle cx="461.10" cy="437.60" r="3.5" fill="none" stroke="#1a1a1a" stroke-width="2.1"/>
<circle cx="487.40" cy="395.60" r="3.5" fill="none" stroke="#1a1a1a" stroke-width="2.1"/>
<circle cx="507.00" cy="359.90" r="3.5" fill="none" stroke="#1a1a1a" stroke-width="2.1"/>
<path d="M317.60,554.00 L369.80,532.40 L396.00,520.50 L415.70,506.80 L441.70,483.60 L461.10,453.70 L487.40,428.00 L507.00,381.60" fill="none" stroke="#d21f33" stroke-width="2.6" stroke-linejoin="round"/>
<line x1="415.70" y1="501.60" x2="415.70" y2="502.40" stroke="#d21f33" stroke-width="2.0" stroke-linecap="butt"/>
<line x1="415.70" y1="511.20" x2="415.70" y2="512.00" stroke="#d21f33" stroke-width="2.0" stroke-linecap="butt"/>
<line x1="411.10" y1="501.60" x2="420.30" y2="501.60" stroke="#d21f33" stroke-width="2.0" stroke-linecap="butt"/>
<line x1="411.10" y1="512.00" x2="420.30" y2="512.00" stroke="#d21f33" stroke-width="2.0" stroke-linecap="butt"/>
<line x1="441.70" y1="477.30" x2="441.70" y2="479.20" stroke="#d21f33" stroke-width="2.0" stroke-linecap="butt"/>
<line x1="441.70" y1="488.00" x2="441.70" y2="489.90" stroke="#d21f33" stroke-width="2.0" stroke-linecap="butt"/>
<line x1="437.10" y1="477.30" x2="446.30" y2="477.30" stroke="#d21f33" stroke-width="2.0" stroke-linecap="butt"/>
<line x1="437.10" y1="489.90" x2="446.30" y2="489.90" stroke="#d21f33" stroke-width="2.0" stroke-linecap="butt"/>
<line x1="461.10" y1="444.50" x2="461.10" y2="449.30" stroke="#d21f33" stroke-width="2.0" stroke-linecap="butt"/>
<line x1="461.10" y1="458.10" x2="461.10" y2="462.90" stroke="#d21f33" stroke-width="2.0" stroke-linecap="butt"/>
<line x1="456.50" y1="444.50" x2="465.70" y2="444.50" stroke="#d21f33" stroke-width="2.0" stroke-linecap="butt"/>
<line x1="456.50" y1="462.90" x2="465.70" y2="462.90" stroke="#d21f33" stroke-width="2.0" stroke-linecap="butt"/>
<line x1="487.40" y1="414.10" x2="487.40" y2="423.60" stroke="#d21f33" stroke-width="2.0" stroke-linecap="butt"/>
<line x1="487.40" y1="432.40" x2="487.40" y2="441.90" stroke="#d21f33" stroke-width="2.0" stroke-linecap="butt"/>
<line x1="482.80" y1="414.10" x2="492.00" y2="414.10" stroke="#d21f33" stroke-width="2.0" stroke-linecap="butt"/>
<line x1="482.80" y1="441.90" x2="492.00" y2="441.90" stroke="#d21f33" stroke-width="2.0" stroke-linecap="butt"/>
<line x1="507.00" y1="363.40" x2="507.00" y2="377.20" stroke="#d21f33" stroke-width="2.0" stroke-linecap="butt"/>
<line x1="507.00" y1="386.00" x2="507.00" y2="399.80" stroke="#d21f33" stroke-width="2.0" stroke-linecap="butt"/>
<line x1="502.40" y1="363.40" x2="511.60" y2="363.40" stroke="#d21f33" stroke-width="2.0" stroke-linecap="butt"/>
<line x1="502.40" y1="399.80" x2="511.60" y2="399.80" stroke="#d21f33" stroke-width="2.0" stroke-linecap="butt"/>
<circle cx="317.60" cy="554.00" r="3.5" fill="none" stroke="#d21f33" stroke-width="2.1"/>
<circle cx="369.80" cy="532.40" r="3.5" fill="none" stroke="#d21f33" stroke-width="2.1"/>
<circle cx="396.00" cy="520.50" r="3.5" fill="none" stroke="#d21f33" stroke-width="2.1"/>
<circle cx="415.70" cy="506.80" r="3.5" fill="none" stroke="#d21f33" stroke-width="2.1"/>
<circle cx="441.70" cy="483.60" r="3.5" fill="none" stroke="#d21f33" stroke-width="2.1"/>
<circle cx="461.10" cy="453.70" r="3.5" fill="none" stroke="#d21f33" stroke-width="2.1"/>
<circle cx="487.40" cy="428.00" r="3.5" fill="none" stroke="#d21f33" stroke-width="2.1"/>
<circle cx="507.00" cy="381.60" r="3.5" fill="none" stroke="#d21f33" stroke-width="2.1"/>
<line x1="326.50" y1="350.10" x2="347.30" y2="350.10" stroke="#1a1a1a" stroke-width="2.4" stroke-linecap="butt"/>
<circle cx="336.90" cy="350.10" r="3.5" fill="none" stroke="#1a1a1a" stroke-width="2.1"/>
<text x="357.40" y="355.10" font-size="12" text-anchor="start" font-weight="normal" font-style="normal" fill="#111" >PBS+Stattic</text>
<line x1="326.50" y1="371.50" x2="347.30" y2="371.50" stroke="#d21f33" stroke-width="2.4" stroke-linecap="butt"/>
<circle cx="336.90" cy="371.50" r="3.5" fill="none" stroke="#d21f33" stroke-width="2.1"/>
<text x="357.40" y="377.10" font-size="12" text-anchor="start" font-weight="normal" font-style="normal" fill="#111" >DOXO+Stattic</text>
<rect x="367.65" y="477.90" width="3.1" height="19.20" fill="#ec2125"/>
<polygon points="363.75,496.10 374.65,496.10 369.20,510.00" fill="#ec2125"/>
</svg>
</body></html>
